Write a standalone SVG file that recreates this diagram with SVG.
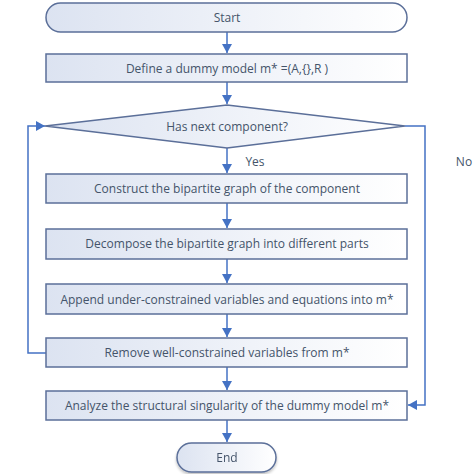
<svg xmlns="http://www.w3.org/2000/svg" width="474" height="474" viewBox="0 0 474 474">
<defs>
<linearGradient id="g" x1="0" y1="0" x2="1" y2="0">
<stop offset="0" stop-color="#dce3f1"/>
<stop offset="1" stop-color="#ffffff"/>
</linearGradient>
<marker id="ah" markerWidth="10" markerHeight="10" refX="9" refY="5" orient="auto" markerUnits="userSpaceOnUse">
<path d="M0,0 L9,5 L0,10 z" fill="#4472c4"/>
</marker>
<filter id="sh" x="-10%" y="-10%" width="120%" height="140%">
<feGaussianBlur in="SourceAlpha" stdDeviation="1.5"/>
<feOffset dx="0" dy="2"/>
<feComponentTransfer><feFuncA type="linear" slope="0.25"/></feComponentTransfer>
<feMerge><feMergeNode/><feMergeNode in="SourceGraphic"/></feMerge>
</filter>
</defs>
<style>
.n{fill:url(#g);stroke:#5b6f99;stroke-width:1.5}
.t{font-family:"Open Sans","Liberation Sans",Arial,sans-serif;font-size:12px;fill:#44546a;text-anchor:middle}
.c{fill:none;stroke:#4472c4;stroke-width:1.5}
</style>
<rect width="474" height="474" fill="#fff"/>
<g id="connectors">
<line class="c" x1="227" y1="32" x2="227" y2="53" marker-end="url(#ah)"/>
<line class="c" x1="227" y1="82" x2="227" y2="104" marker-end="url(#ah)"/>
<line class="c" x1="227" y1="148" x2="227" y2="173" marker-end="url(#ah)"/>
<line class="c" x1="227" y1="203" x2="227" y2="228" marker-end="url(#ah)"/>
<line class="c" x1="227" y1="259" x2="227" y2="283" marker-end="url(#ah)"/>
<line class="c" x1="227" y1="314" x2="227" y2="337" marker-end="url(#ah)"/>
<line class="c" x1="227" y1="367" x2="227" y2="390" marker-end="url(#ah)"/>
<line class="c" x1="227" y1="420" x2="227" y2="442" marker-end="url(#ah)"/>
<polyline class="c" points="46,353 28,353 28,126 45,126" marker-end="url(#ah)"/>
<polyline class="c" points="405,126 425,126 425,405 408,405" marker-end="url(#ah)"/>
<text class="t" x="255" y="166">Yes</text>
<text class="t" x="464" y="166">No</text>
</g>
<g id="start"><rect class="n" x="46" y="3" width="361" height="29" rx="14.5"/><text class="t" x="227" y="22">Start</text></g>
<g id="define"><rect class="n" x="46" y="54" width="361" height="28"/><text class="t" x="227" y="73">Define a dummy model m* =(A,{},R )</text></g>
<g id="decision"><polygon class="n" points="45,126 227,105 405,126 227,148"/><text class="t" x="227" y="131">Has next component?</text></g>
<g id="construct"><rect class="n" x="46" y="174" width="361" height="29"/><text class="t" x="227" y="193">Construct the bipartite graph of the component</text></g>
<g id="decompose"><rect class="n" x="46" y="229" width="361" height="30"/><text class="t" x="227" y="248">Decompose the bipartite graph into different parts</text></g>
<g id="append"><rect class="n" x="46" y="284" width="361" height="30"/><text class="t" x="227" y="304">Append under-constrained variables and equations into m*</text></g>
<g id="remove"><rect class="n" x="46" y="338" width="361" height="29"/><text class="t" x="227" y="357">Remove well-constrained variables from m*</text></g>
<g id="analyze"><rect class="n" x="46" y="391" width="361" height="29"/><text class="t" x="227" y="410">Analyze the structural singularity of the dummy model m*</text></g>
<g id="end" filter="url(#sh)"><rect class="n" x="177" y="443" width="99" height="29" rx="14.5"/><text class="t" x="227" y="462">End</text></g>
</svg>
